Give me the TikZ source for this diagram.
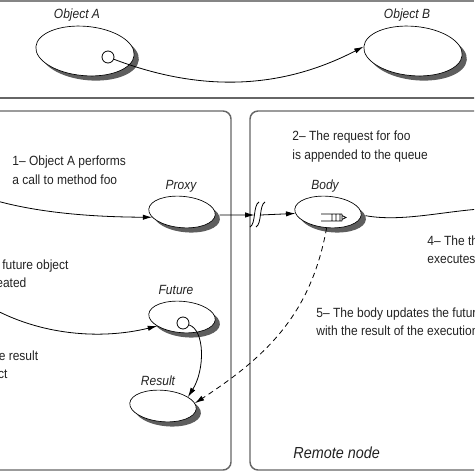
\documentclass[tikz,border=0pt]{standalone}
\usepackage{fontspec}
\setmainfont{Liberation Sans}[FakeStretch=0.9]
\usetikzlibrary{shapes.geometric,shadows,arrows.meta}
\definecolor{boxgray}{HTML}{666666}
\definecolor{shadegray}{HTML}{5E5E5E}
\definecolor{ink}{HTML}{222222}

\begin{document}
\begin{tikzpicture}[x=0.75pt,y=-0.75pt,line width=0.6pt,
  obj/.style={ellipse,draw,fill=white,rotate=-5,line width=0.5pt,
    general shadow={shadow xshift=3.5pt,shadow yshift=-3.5pt,fill=shadegray}},
  bigobj/.style={obj,minimum width=74pt,minimum height=37pt},
  smallobj/.style={obj,minimum width=50pt,minimum height=23.5pt},
  ref/.style={circle,draw,fill=white,minimum size=9pt,inner sep=0pt},
  lbl/.style={font=\fontsize{10}{12}\selectfont\itshape,text=ink,anchor=base,inner sep=0pt},
  note/.style={font=\fontsize{10}{13.5}\selectfont,text=ink,align=left,anchor=base west,inner sep=0pt},
  frame/.style={draw=boxgray,line width=1.1pt,rounded corners=6pt},
  flow/.style={-{Latex[length=7pt,width=4pt]}}]
			\useasboundingbox (0,0) rectangle (474,474);
			\clip (0,0) rectangle (474,474);
			% frames
			\fill[boxgray!80] (0,0) rectangle (474,2.5);
			\draw[boxgray,line width=1.1pt] (-5,98) -- (480,98);
			\draw[frame] (-20,111) rectangle (231,470);
			\draw[frame] (250,111) rectangle (494,470);
			% objects
			\node[bigobj] (objA) at (85,51) {};
			\node[bigobj] (objB) at (413,51) {};
			\node[ref] (aref) at (108,57) {};
			\node[lbl] (labA) at (77,19) {Object A};
			\node[lbl] (labB) at (407,19) {Object B};
			\node[smallobj] (proxy) at (182,212) {};
			\node[smallobj] (body) at (328,212) {};
			\node[smallobj] (future) at (182,317) {};
			\node[smallobj] (result) at (163,406) {};
			\node[ref] (fref) at (183,323) {};
			\node[lbl] (labproxy) at (181,189) {Proxy};
			\node[lbl] (labbody) at (325,189) {Body};
			\node[lbl] (labfuture) at (176,294) {Future};
			\node[lbl] (labresult) at (158,385) {Result};
			% queue of the body
			\draw (321,214) -- (342,214) (321,221) -- (342,221) (332,214) -- (332,221)
				(336,214) -- (336,221) (340,214) -- (340,221) (342,214) -- (342,221)
				(342,215.5) -- (346,217.5) -- (342,219.5);
			% steps (anchored on the last line)
			\node[note] (step1) at (12,184) {1– Object A performs\\a call to method foo};
			\node[note] (step2) at (292,159) {2– The request for foo\\is appended to the queue};
			\node[note] (step3) at (-26,287) {3– A future object\\is created};
			\node[note] (step4) at (427,263) {4– The thread of the body\\executes method foo on object B};
			\node[note] (step5) at (316,335) {5– The body updates the future object\\with the result of the execution of foo};
			\node[note] (step6) at (-123,378) {6– Object A can use the result\\through the future object};
			\node[lbl,anchor=base west,font=\fontsize{12}{14}\selectfont\itshape] (remote) at (293,458) {Remote node};
			% calls
			\coordinate (callin) at (-10,199);
			\coordinate (futin) at (-10,307);
			\coordinate (brk1) at (254.5,215);
			\coordinate (brk2) at (260.5,215);
			\coordinate (bodyout) at (480,209);
			\draw[flow] (aref) .. controls (200,92) and (280,90) .. (objB.west);
			\draw[flow] (callin) .. controls (40,214) and (100,217) .. (proxy.195);
			\draw[flow,shorten <=3pt] (proxy.east) -- (brk1);
			\draw (250,227) .. controls (256,224) and (253,205) .. (259,202);
			\draw (256,227) .. controls (262,224) and (259,205) .. (265,202);
			\draw[flow] (brk2) -- (body);
			\draw[shorten <=3pt] (body.east) .. controls (400,222) and (440,212) .. (bodyout);
			\draw[flow] (futin) .. controls (40,335) and (100,340) .. (future.205);
			\draw[flow] (fref) .. controls (205,330) and (205,370) .. (result.25);
			\draw[flow,dash pattern=on 4pt off 3pt] (body.south) .. controls (311,314) and (267,356) .. (result.10);
		\end{tikzpicture}
\end{document}
